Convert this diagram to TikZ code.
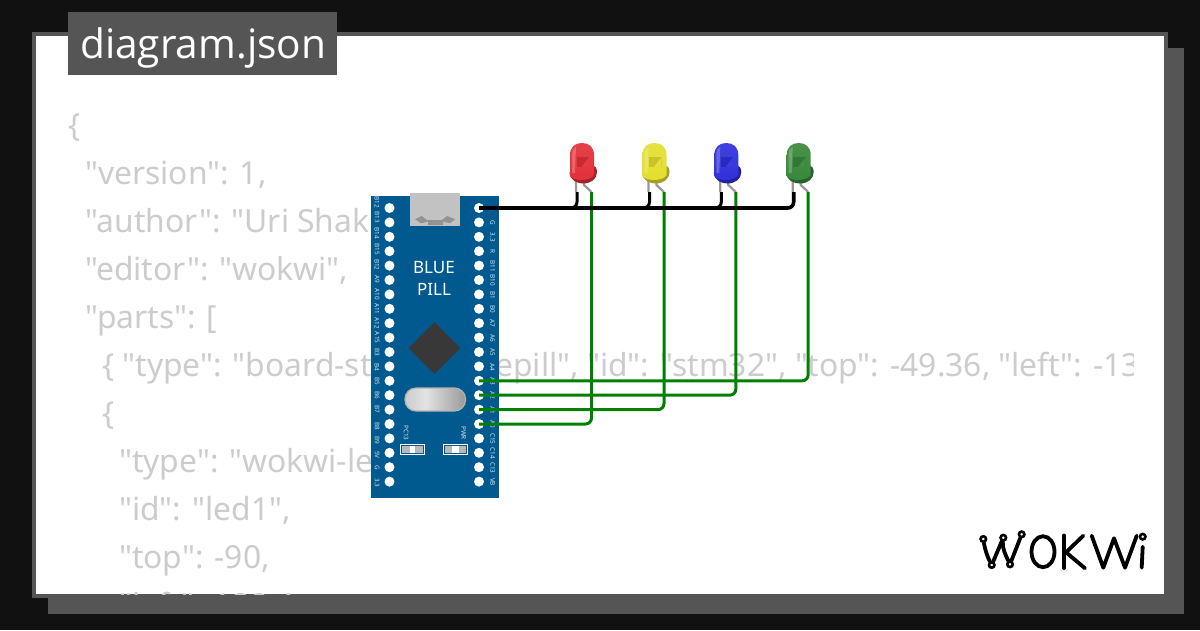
\documentclass[tikz,border=0pt]{standalone}
\usepackage{fontspec}
\newfontfamily\codefont{Noto Sans}
\newfontfamily\tabfont{Open Sans}
\definecolor{frameblack}{HTML}{111111}
\definecolor{framegray}{HTML}{555555}
\definecolor{codegray}{HTML}{CCCCCC}
\definecolor{boardblue}{HTML}{005A8F}
\definecolor{wiregreen}{HTML}{008000}
\definecolor{ledred}{HTML}{E2303A}
\definecolor{ledyellow}{HTML}{E4DE30}
\definecolor{ledblue}{HTML}{3030DC}
\definecolor{ledgreen}{HTML}{38883A}
\pgfdeclarehorizontalshading{crystalshade}{100bp}{color(0bp)=(gray!40); color(25bp)=(gray!40); color(42bp)=(gray!22); color(75bp)=(gray!80); color(100bp)=(gray!80)}
\begin{document}
\begin{tikzpicture}[x=1pt,y=-1pt]
  \tikzstyle{codeline}=[anchor=base west,inner sep=0,text=codegray,font=\codefont\fontsize{31.8}{32}\selectfont]
  \tikzstyle{pinhole}=[circle,fill=white,inner sep=0,minimum size=10pt]
  \tikzstyle{pinlabel}=[rotate=-90,inner sep=0,text=white!85!boardblue,font=\codefont\fontsize{6.3}{7}\selectfont]
  \tikzstyle{wiregrn}=[draw=wiregreen,line width=3pt,rounded corners=6pt]
  \tikzstyle{wireblk}=[draw=black,line width=3pt,rounded corners=6pt]
  \tikzstyle{logo}=[line width=3.8pt,line cap=round,line join=round]
  \tikzstyle{smd}=[draw=white,line width=0.9pt]
  \useasboundingbox (0,0) rectangle (1200,630);
  \fill[frameblack] (0,0) rectangle (1200,630);
  \fill[framegray] (48,48) rectangle (1184,614);
  \fill[framegray] (32,32) rectangle (1168,598);
  \fill[white] (36,36) rectangle (1164,594);
  \begin{scope}
    \clip (36,36) rectangle (1133,594);
    \node[codeline] (brace) at (68,136) {\{};
    \node[codeline] (version) at (85,184) {"version": 1,};
    \node[codeline] (author) at (85,232) {"author": "Uri Shak};
    \node[codeline] (editor) at (85,280) {"editor": "wokwi",};
    \node[codeline] (parts) at (85,328) {"parts": [};
    \node[codeline] (board) at (102,376) {\{ "type": "board-stm32-bluepill", "id": "stm32", "top": -49.36, "left": -13};
    \node[codeline] (open) at (102,424) {\{};
    \node[codeline] (type) at (119,472) {"type": "wokwi-led",};
    \node[codeline] (ledid) at (119,520) {"id": "led1",};
    \node[codeline] (top) at (119,568) {"top": -90,};
    \node[codeline] (left) at (119,616) {"left": 138.4,};
  \end{scope}
  \fill[framegray] (68,12) rectangle (337,75);
  \node[anchor=base west,inner sep=0,text=white,font=\tabfont\fontsize{40.6}{40.6}\selectfont] (title) at (80,58) {diagram.json};
  % board
  \fill[boardblue] (371,196) rectangle (499,498);
  \fill[codegray!95!black] (409.5,193) -- (459.5,193) -- (459.5,226) -- (409.5,226) -- cycle;
  \fill[gray!85] (415,219.3) -- (421.7,216) -- (426.7,220) -- (441.7,220) -- (447.3,216) -- (455,219.3) -- (450,223.3) -- (443,221.5) -- (443,225) -- (428,225) -- (428,221.5) -- (421,223.3) -- cycle;
  \node[anchor=base,text=white,inner sep=0,font=\codefont\fontsize{17}{17}\selectfont] (blue) at (434,273.3) {BLUE};
  \node[anchor=base,text=white,inner sep=0,font=\codefont\fontsize{17}{17}\selectfont] (pill) at (434,295) {PILL};
  \fill[black!78] (434.5,322) -- (460.5,348) -- (434.5,374) -- (408.5,348) -- cycle;
  \shade[shading=crystalshade,draw=gray!60,line width=1.2pt,rounded corners=11pt] (405,388) rectangle (465.5,411);
  \draw[smd] (400.5,444) rectangle (424.5,454);
  \fill[gray!55] (402,445.5) rectangle (423,452.5);
  \fill[white] (410,445.5) rectangle (415,452.5);
  \draw[smd] (443.5,444) rectangle (467.5,454);
  \fill[gray!55] (445,445.5) rectangle (466,452.5);
  \fill[white] (452,445.5) rectangle (458.5,452.5);
  \node[pinlabel] (pc13) at (406,433) {PC13};
  \node[pinlabel] (pwr) at (463.7,433) {PWR};
  \foreach \y/\d [count=\i from 0] in {B12/-6,B13/-5,B14/-3.3,B15/-2,B12/-0.7,A9/-1,A10/0,A11/0,A12/0,A15/0,B3/0,B4/0.5,B5/0.7,B6/0,B7/0,B8/2.3,B9/2.3,5V/2,G/0.7,3.3/1.3}{
    \node[pinhole] (L\i) at (389.5,208+14.4*\i) {};
    \node[pinlabel] (LL\i) at (377,208+14.4*\i+\d) {\y};
  }
  \foreach \n/\y [count=\i from 0] in {GA/G,GB/G,V3/3.3,R/R,B11/B11,B10/B10,B1/B1,B0/B0,A7/A7,A6/A6,A5/A5,A4/A4,A3/A3,A2/A2,A1/A1,A0/A0,C15/C15,C14/C14,C13/C13,VB/VB}{
    \node[pinhole] (P\n) at (479,208+14.4*\i) {};
    \node[pinlabel] (PL\i) at (492.5,208.5+14.4*\i) {\y};
  }
  % leds
  \foreach \n/\c/\col in {1/582/ledred,2/654.5/ledyellow,3/726.3/ledblue,4/798.7/ledgreen}{
    \coordinate (cath\n) at (\c-5,192);
    \coordinate (anod\n) at (\c+9.5,192);
    \draw[gray!80,line width=2.2pt] (\c-6,180) -- (\c-6,192) (\c+2,180) -- (\c+2,185) -- (\c+9.5,192);
    \fill[\col!72!black] (\c-12.5,172) .. controls (\c-12.5,181) and (\c-4,183.5) .. (\c+1,183.5) .. controls (\c+9,183.5) and (\c+15,179) .. (\c+15,172) .. controls (\c+15,168) and (\c+13,166) .. (\c+11,165) -- cycle;
    \shade[top color=\col!92!white,bottom color=\col] (\c-12,155) .. controls (\c-12,147) and (\c-7,143) .. (\c,143) .. controls (\c+7,143) and (\c+12,147) .. (\c+12,155) -- (\c+12,175) .. controls (\c+8,181.5) and (\c-8,181.5) .. (\c-12,176) -- cycle;
    \fill[white,opacity=0.22] (\c-10,173) -- (\c-10,153) .. controls (\c-10,150) and (\c-8,148) .. (\c-6,147) -- (\c-7,173) -- cycle;
    \fill[\col!88!black] (\c-5.5,157) rectangle (\c+7,167);
    \fill[\col!95!white] (\c-0.5,167) -- (\c+7,157) -- (\c+7,167) -- cycle;
  }
  % wires
  \draw[wiregrn] (PA3.center) -| (anod4);
  \draw[wiregrn] (PA2.center) -| (anod3);
  \draw[wiregrn] (PA1.center) -| (anod2);
  \draw[wiregrn] (PA0.center) -| (anod1);
  \draw[wireblk,line width=3.6pt] (PGA.center) -| (cath4);
  \draw[wireblk] (cath1) |- (PGA.center);
  \draw[wireblk] (cath2) |- (PGA.center);
  \draw[wireblk] (cath3) |- (PGA.center);
  % logo
  \foreach \x/\y [count=\i] in {983.3/539,1003.3/537.7,1021.7/534.3,991.7/565,1010/564.3,1142.7/536.7}{
    \node[circle,draw=black,line width=2.6pt,inner sep=0,minimum size=5.5pt] (ring\i) at (\x,\y) {};
  }
  \draw[logo] (ring1) .. controls (985,550) and (988,558) .. (ring4);
  \draw[logo] (ring4) -- (ring2);
  \draw[logo] (ring2) .. controls (1002,548) and (1006,556) .. (ring5);
  \draw[logo] (ring5) -- (ring3);
  \draw[logo] (1043,551.7) ellipse [x radius=11.5,y radius=15.5];
  \draw[logo] (1064,535.5) -- (1064,568);
  \draw[logo] (1083.3,535.7) -- (1066,552.3) -- (1085,568.3);
  \draw[logo] (1091.7,535.7) -- (1103.3,567.7) -- (1114,538.3) -- (1125,567.7) -- (1136.7,535.7);
  \draw[logo] (1142.7,546.7) -- (1141.7,567.7);
\end{tikzpicture}
\end{document}
